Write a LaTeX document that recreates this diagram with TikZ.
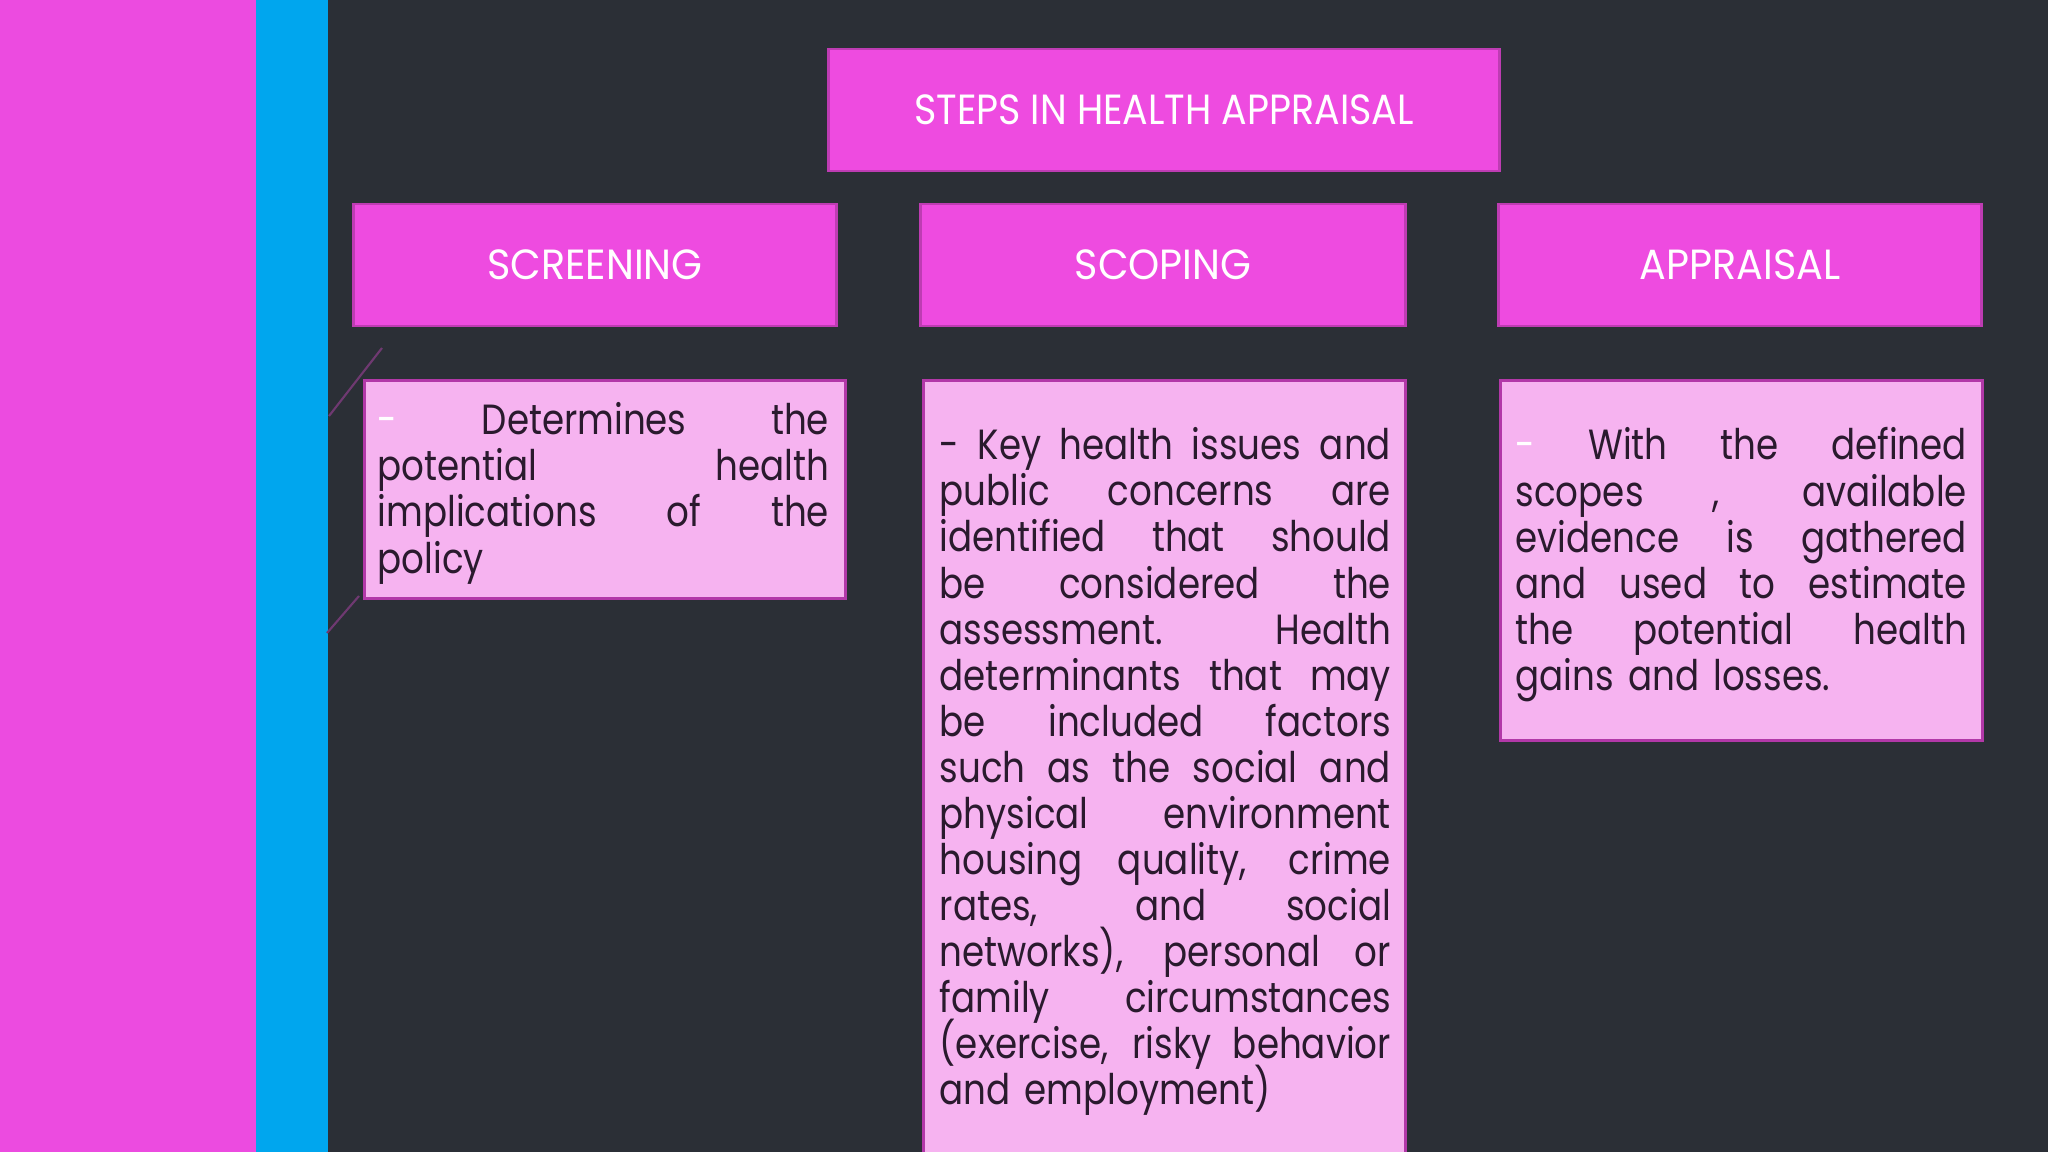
\documentclass[tikz,border=0pt]{standalone}
\usepackage{fontspec}
\setmainfont{Poppins}[FakeStretch=0.845]
\newfontfamily\titlefont{Poppins}[FakeStretch=0.9]
\newfontfamily\headfont{Poppins}[FakeStretch=0.94]
\definecolor{slatebg}{HTML}{2B2F36}
\definecolor{sidemagenta}{HTML}{EC4BE0}
\definecolor{sideblue}{HTML}{00A6EE}
\definecolor{headpink}{HTML}{EE4BE0}
\definecolor{bodypink}{HTML}{F6B3F0}
\definecolor{bodyink}{HTML}{2A1A2E}
\newcommand{\bodyfont}{\fontsize{12}{13.1}\selectfont\lineskiplimit=-20pt\relax\lineskip=0pt\relax}
\newcommand{\fillline}[1]{\makebox[\linewidth][s]{\spaceskip=0.25em plus 1fil\relax\xspaceskip=0.25em plus 1fil\relax #1}\\}
\begin{document}
\begin{tikzpicture}
[x=0.01cm, y=-0.01cm]
\tikzstyle{header}=[rectangle, fill=headpink, draw=headpink!80!black, line width=0.8pt, text=white, inner sep=0pt, minimum height=1.22cm, font=\headfont\fontsize{12}{14}\selectfont]
\tikzstyle{bodybox}=[rectangle, fill=bodypink, draw=headpink!75!black, line width=0.8pt, inner sep=0pt, anchor=north west]
\tikzstyle{bodytext}=[text width=4.51cm, align=left, anchor=north west, inner sep=0pt, text=bodyink, font=\bodyfont]

\useasboundingbox (0,0) rectangle (2048,1152);
\clip (0,0) rectangle (2048,1152);
\fill[slatebg] (0,0) rectangle (2048,1152);
\fill[sidemagenta] (0,0) rectangle (256,1152);
\fill[sideblue] (256,0) rectangle (328,1152);
\draw[sidemagenta!35!slatebg, line width=0.6pt] (329,416)--(382,348);
\draw[sidemagenta!35!slatebg, line width=0.6pt] (327,633)--(359,596);

\node[header, minimum width=6.71cm, font=\titlefont\fontsize{12}{14}\selectfont] (title) at (1164,110) {STEPS IN HEALTH APPRAISAL};
\node[header, minimum width=4.83cm] (screening) at (595,265) {SCREENING};
\node[header, minimum width=4.84cm] (scoping)   at (1163,265) {SCOPING};
\node[header, minimum width=4.83cm] (appraisal) at (1740,265) {APPRAISAL};

\node[bodybox, minimum width=4.81cm, minimum height=2.18cm] (screenbody)   at (363,379) {};
\node[bodybox, minimum width=4.82cm, minimum height=8.00cm] (scopebody)    at (922,379) {};
\node[bodybox, minimum width=4.82cm, minimum height=3.60cm] (appraisebody) at (1499,379) {};

\node[bodytext] (screentext) at (377,402)
  {\fillline{\textcolor{white}{-} Determines the}
   \fillline{potential health}
   \fillline{implications of the}
   policy};
\node[bodytext] (scopetext) at (939,427)
  {\fillline{- Key health issues and}
   \fillline{public concerns are}
   \fillline{identified that should}
   \fillline{be considered the}
   \fillline{assessment. Health}
   \fillline{determinants that may}
   \fillline{be included factors}
   \fillline{such as the social and}
   \fillline{physical environment}
   \fillline{housing quality, crime}
   \fillline{rates, and social}
   \fillline{networks), personal or}
   \fillline{family circumstances}
   \fillline{(exercise, risky behavior}
   and employment)};
\node[bodytext] (appraisetext) at (1515,427)
  {\fillline{\textcolor{white}{-} With the defined}
   \fillline{scopes , available}
   \fillline{evidence is gathered}
   \fillline{and used to estimate}
   \fillline{the potential health}
   gains and losses.};
\end{tikzpicture}
\end{document}
